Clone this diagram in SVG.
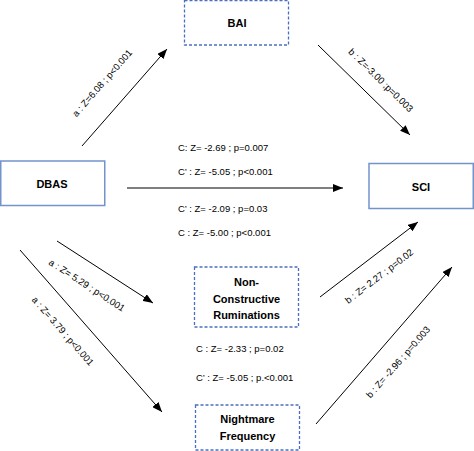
<svg xmlns="http://www.w3.org/2000/svg" width="474" height="451" viewBox="0 0 474 451">
<style>
.solid{fill:#fff;stroke:#7393cc;stroke-width:1.5}
.dash{fill:#fff;stroke:#4a6fc0;stroke-width:1.3;stroke-dasharray:3 2}
.nt{font-family:"Liberation Sans",Arial,sans-serif;font-size:11px;font-weight:bold;text-anchor:middle;fill:#000}
.lb{font-family:"Liberation Sans",Arial,sans-serif;font-size:9.5px;fill:#000}
.lc{font-family:"Liberation Sans",Arial,sans-serif;font-size:9.5px;fill:#000;text-anchor:middle}
.ar{stroke:#000;stroke-width:1;fill:none;marker-end:url(#ah)}
</style>
<defs>
<marker id="ah" viewBox="0 0 10 8" refX="10" refY="4" markerWidth="10" markerHeight="8" markerUnits="userSpaceOnUse" orient="auto">
<path d="M0,0 L10,4 L0,8 Z" fill="#000"/>
</marker>
</defs>
<rect width="474" height="451" fill="#fff"/>
<g id="connectors">
<line class="ar" x1="82" y1="146" x2="167" y2="49"/>
<line class="ar" x1="318" y1="45" x2="410" y2="135"/>
<line class="ar" x1="127" y1="188" x2="343" y2="188"/>
<line class="ar" x1="57" y1="241" x2="153" y2="303"/>
<line class="ar" x1="20" y1="250" x2="162" y2="412"/>
<line class="ar" x1="320" y1="297" x2="418" y2="222"/>
<line class="ar" x1="316" y1="424" x2="452" y2="267"/>
<text class="lc" transform="translate(102,83) rotate(-48.8)" y="3.5">a : Z=6.08 ; p&lt;0.001</text>
<text class="lc" transform="translate(381,80) rotate(44.4)" y="3.5">b : Z=-3.00 ;p=0.003</text>
<text class="lc" transform="translate(87,285) rotate(33)" y="3.5">a : Z= 5.29 ; p&lt;0.001</text>
<text class="lc" transform="translate(63,331) rotate(48.8)" y="3.5">a : Z= 3.79 ; p&lt;0.001</text>
<text class="lc" transform="translate(379,276) rotate(-37.4)" y="3.5">b : Z= 2.27 ; p=0.02</text>
<text class="lc" transform="translate(398,362) rotate(-48.9)" y="3.5">b : Z= -2.96 ; p=0.003</text>
<text class="lb" x="178" y="150.5">C: Z= -2.69 ; p=0.007</text>
<text class="lb" x="178" y="174.5">C’ : Z= -5.05 ; p&lt;0.001</text>
<text class="lb" x="178" y="211.5">C’ : Z= -2.09 ; p=0.03</text>
<text class="lb" x="178" y="235.5">C : Z= -5.00 ; p&lt;0.001</text>
<text class="lb" x="196" y="351.5">C : Z= -2.33 ; p=0.02</text>
<text class="lb" x="196" y="380.5">C’ : Z= -5.05 ; p.&lt;0.001</text>
</g>
<g id="BAI">
<rect class="dash" x="184.5" y="0.5" width="104" height="44.5"/>
<text class="nt" x="237" y="27">BAI</text>
</g>
<g id="DBAS">
<rect class="solid" x="0.75" y="161" width="104" height="44.5"/>
<text class="nt" x="52" y="187.5">DBAS</text>
</g>
<g id="SCI">
<rect class="solid" x="369" y="163.5" width="104.25" height="45"/>
<text class="nt" x="421" y="190.5">SCI</text>
</g>
<g id="Ruminations">
<rect class="dash" x="194.5" y="267" width="104" height="60"/>
<text class="nt" x="246.5" y="286">Non-</text>
<text class="nt" x="246.5" y="302.5">Constructive</text>
<text class="nt" x="246.5" y="319">Ruminations</text>
</g>
<g id="Nightmare">
<rect class="dash" x="195.5" y="405" width="104" height="45"/>
<text class="nt" x="247.5" y="423">Nightmare</text>
<text class="nt" x="247.5" y="440">Frequency</text>
</g>
</svg>
